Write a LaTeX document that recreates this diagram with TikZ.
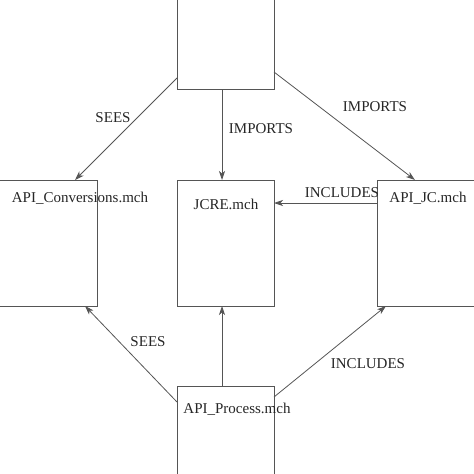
\documentclass[tikz,border=0pt]{standalone}
\usepackage{fontspec}
\setmainfont{Liberation Serif}
\usetikzlibrary{arrows.meta,calc}
\definecolor{ln}{HTML}{555555}
\begin{document}
\begin{tikzpicture}[x=1pt,y=-1pt,
  box/.style={draw=ln,line width=1pt,rectangle,inner sep=0pt,outer sep=0pt},
  lbl/.style={font=\fontsize{15}{17}\selectfont,text=black!85,inner sep=0pt},
  conn/.style={draw=ln,line width=0.8pt,-{Stealth[length=9pt,width=6pt,inset=2.5pt]}}]
\useasboundingbox (0,0) rectangle (474,474);
\clip (0,0) rectangle (474,474);
\fill[white] (0,0) rectangle (474,474);
% boxes
\node[box,minimum width=97pt,minimum height=129pt] (top) at (225.5,24.5) {};
\node[box,minimum width=97pt,minimum height=126pt] (jcre) at (225.5,243) {};
\node[box,minimum width=137pt,minimum height=126pt] (left) at (28.5,243) {};
\node[box,minimum width=137pt,minimum height=126pt] (right) at (445.5,243) {};
\node[box,minimum width=97pt,minimum height=134pt] (bot) at (225.5,453) {};
% box titles
\node[lbl] (tleft) at (80,198) {API\_Conversions.mch};
\node[lbl] (tjcre) at (226,204) {JCRE.mch};
\node[lbl] (tright) at (428,198) {API\_JC.mch};
\node[lbl] (tbot) at (237,409) {API\_Process.mch};
% connectors
\draw[conn] ($(top.south west)+(0,-11)$) -- ($(left.north east)+(-22,0)$);
\draw[conn] ($(top.south)+(-3.5,0)$) -- ($(jcre.north)+(-3.5,0)$);
\draw[conn] ($(top.south east)+(0,-17)$) -- ($(right.north west)+(38,0)$);
\draw[conn] ($(right.north west)+(0,23)$) -- ($(jcre.north east)+(0,23)$);
\draw[conn] ($(bot.north west)+(0,16)$) -- ($(left.south east)+(-12,0)$);
\draw[conn] ($(bot.north)+(-3.5,0)$) -- ($(jcre.south)+(-3.5,0)$);
\draw[conn] ($(bot.north east)+(0,11)$) -- ($(right.south west)+(9,0)$);
% connector labels
\node[lbl] (l1) at (113,118) {SEES};
\node[lbl] (l2) at (261,129) {IMPORTS};
\node[lbl] (l3) at (375,107) {IMPORTS};
\node[lbl] (l4) at (342,193) {INCLUDES};
\node[lbl] (l5) at (148,342) {SEES};
\node[lbl] (l6) at (368,364) {INCLUDES};
\end{tikzpicture}
\end{document}
